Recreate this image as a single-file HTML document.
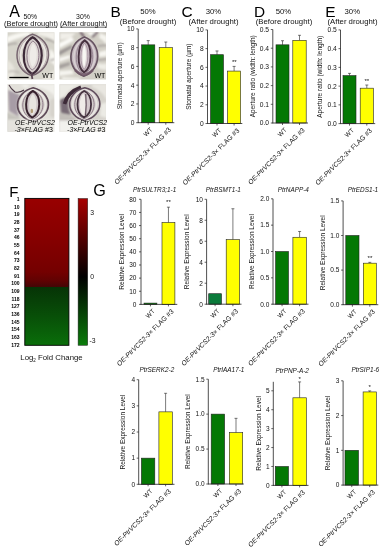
<!DOCTYPE html>
<html><head><meta charset="utf-8"><title>Figure</title>
<style>html,body{margin:0;padding:0;background:#fff}svg{display:block}</style></head><body>
<svg width="388" height="550" viewBox="0 0 388 550" font-family='"Liberation Sans", sans-serif'>
<rect width="388" height="550" fill="#fff"/>
<defs>
<linearGradient id="hm" x1="0" y1="0" x2="0" y2="1">
<stop offset="0" stop-color="#980000"/>
<stop offset="0.3" stop-color="#840000"/>
<stop offset="0.5" stop-color="#740000"/>
<stop offset="0.56" stop-color="#600202"/>
<stop offset="0.60" stop-color="#450606"/>
<stop offset="0.601" stop-color="#063306"/>
<stop offset="0.8" stop-color="#084f08"/>
<stop offset="1" stop-color="#0a6e0a"/>
</linearGradient>
<linearGradient id="cb" x1="0" y1="0" x2="0" y2="1">
<stop offset="0" stop-color="#a80000"/>
<stop offset="0.533" stop-color="#000000"/>
<stop offset="1" stop-color="#0a7c0a"/>
</linearGradient>
<filter id="bl" x="-10%" y="-10%" width="120%" height="120%"><feGaussianBlur stdDeviation="0.55"/></filter>
<filter id="bl3" x="-10%" y="-10%" width="120%" height="120%"><feGaussianBlur stdDeviation="0.8"/></filter>
<filter id="bl2" x="-10%" y="-10%" width="120%" height="120%"><feGaussianBlur stdDeviation="1.1"/></filter>
<clipPath id="c1"><rect x="7.6" y="32.2" width="46.8" height="47.2"/></clipPath>
<clipPath id="c2"><rect x="59.4" y="32.2" width="46.6" height="47.2"/></clipPath>
<clipPath id="c3"><rect x="7.5" y="84.1" width="46.8" height="47.7"/></clipPath>
<clipPath id="c4"><rect x="59.4" y="84.3" width="46.6" height="47.5"/></clipPath>
</defs>
<text x="9.30" y="16.70" font-size="16" text-anchor="start" fill="#000">A</text>
<text x="110.60" y="16.90" font-size="15.4" text-anchor="start" fill="#000">B</text>
<text x="181.50" y="17.20" font-size="15.4" text-anchor="start" fill="#000">C</text>
<text x="254.10" y="17.00" font-size="15.4" text-anchor="start" fill="#000">D</text>
<text x="325.20" y="17.20" font-size="15.4" text-anchor="start" fill="#000">E</text>
<text x="9.20" y="196.80" font-size="15" text-anchor="start" fill="#000">F</text>
<text x="93.20" y="196.30" font-size="16.2" text-anchor="start" fill="#000">G</text>
<text x="30.30" y="19.10" font-size="6.8" text-anchor="middle" fill="#111">50%</text>
<text x="31.00" y="26.20" font-size="7.4" text-anchor="middle" fill="#111">(Before drought)</text>
<line x1="5.20" y1="27.20" x2="56.80" y2="27.20" stroke="#222" stroke-width="0.7"/>
<text x="83.00" y="19.10" font-size="6.9" text-anchor="middle" fill="#111">30%</text>
<text x="83.60" y="26.20" font-size="7.35" text-anchor="middle" fill="#111">(After drought)</text>
<line x1="60.00" y1="27.20" x2="107.00" y2="27.20" stroke="#222" stroke-width="0.7"/>
<g clip-path="url(#c1)">
<rect x="7" y="31" width="49" height="50" fill="#d6d4cb"/>
<g filter="url(#bl3)">
<path d="M7 37 Q18 32 30 32 L30 35.5 Q18 37 7 43Z" fill="#f8f7f2" stroke="none" stroke-width="1" opacity="1"/>
<path d="M38 32 L55 32 L55 41 Q46 36 38 35Z" fill="#f2f0ea" stroke="none" stroke-width="1" opacity="1"/>
<path d="M50 49 Q54 51 56 58 L56 67 Q53 63 49 61Z" fill="#f6f5f0" stroke="none" stroke-width="1" opacity="1"/>
<path d="M7 60 Q12 62 15 70 L13 80 L7 80Z" fill="#e8e6de" stroke="none" stroke-width="1" opacity="1"/>
<path d="M44 76 Q49 74 55 70 L55 80 L44 80Z" fill="#e8e6de" stroke="none" stroke-width="1" opacity="1"/>
<path d="M7 45 Q12 43 17 43.5" fill="none" stroke="#9d9795" stroke-width="1.4" opacity="1"/>
<path d="M45 38.5 Q50 39.5 55 42.5" fill="none" stroke="#a09a97" stroke-width="1.4" opacity="1"/>
<path d="M50 60.5 L55 59" fill="none" stroke="#a49e9b" stroke-width="1.4" opacity="1"/>
<path d="M8 72 Q14 70 20 73" fill="none" stroke="#b5afab" stroke-width="1.2" opacity="1"/>
</g><g filter="url(#bl)">
<path d="M32.5 34.2 C12.3 40.8 11.6 69.0 31.8 75.6 C53.6 69.0 54.3 40.8 32.5 34.2Z" fill="#d3cec8" stroke="#77656f" stroke-width="1.5" opacity="1"/>
<path d="M32.5 36.2 C15.2 42.3 14.7 68.1 32.0 74.2 C51.2 68.1 51.7 42.3 32.5 36.2Z" fill="none" stroke="#a8999f" stroke-width="0.7" opacity="1"/>
<path d="M32.5 37.0 C16.8 42.8 16.3 67.2 32.0 73.0 C49.6 67.2 50.1 42.8 32.5 37.0Z" fill="none" stroke="#ebe8e3" stroke-width="1.8" opacity="1"/>
<path d="M32.6 37.2 C21.2 43.1 20.7 68.1 32.1 74.0 C44.6 68.1 45.1 43.1 32.6 37.2Z" fill="#d4cdcb" stroke="#3e2a39" stroke-width="2.2" opacity="1"/>
<path d="M32.8 41.0 C25.4 45.6 24.8 65.4 32.2 70.0 C40.7 65.4 41.3 45.6 32.8 41.0Z" fill="#e2dcd9" stroke="#8f7b89" stroke-width="1" opacity="1"/>
<path d="M33.2 43.5 C29.2 47.6 28.5 62.9 32.5 67.0 C37.6 62.9 38.3 47.6 33.2 43.5Z" fill="#efece8" stroke="none" stroke-width="1" opacity="1"/>
<path d="M31.6 72.5 Q31.8 76 32.4 79" fill="none" stroke="#5a4553" stroke-width="1.8" opacity="1"/>
</g></g>
<g clip-path="url(#c2)">
<rect x="59" y="31" width="49" height="50" fill="#d2cfc6"/>
<g filter="url(#bl3)">
<path d="M59 43 L72 37 L74 40.5 L59 48.5Z" fill="#fbfaf7" stroke="none" stroke-width="1" opacity="1"/>
<path d="M59 51.5 L72 45 L72 48 L59 55.5Z" fill="#989292" stroke="none" stroke-width="1" opacity="1"/>
<path d="M59 58 L70 55 L70 58 L59 62Z" fill="#f9f8f4" stroke="none" stroke-width="1" opacity="1"/>
<path d="M59 65 L70 62 L70 65 L59 69Z" fill="#a29d9a" stroke="none" stroke-width="1" opacity="1"/>
<path d="M59 71 L72 70 L74 74 L59 76Z" fill="#f6f5f0" stroke="none" stroke-width="1" opacity="1"/>
<path d="M60 33 L76 33 L70 38 L60 40Z" fill="#f1efe9" stroke="none" stroke-width="1" opacity="1"/>
<path d="M80 31 L84 37 M98 31 L92 37" fill="none" stroke="#6a5764" stroke-width="2.2" opacity="1"/>
<path d="M86 32 L96 32 L91 36Z" fill="#f8f7f3" stroke="none" stroke-width="1" opacity="1"/>
<path d="M99 38 Q104 40 107 46 L107 36 L100 33Z" fill="#f5f4ee" stroke="none" stroke-width="1" opacity="1"/>
<path d="M99 52 L107 50 L107 56 L99 57Z" fill="#f7f6f1" stroke="none" stroke-width="1" opacity="1"/>
<path d="M98 46 L107 45 M98 60 L107 59" fill="none" stroke="#a19b99" stroke-width="1.5" opacity="1"/>
<path d="M98 63 Q103 65 107 63 L107 70 Q102 70 97 68Z" fill="#eeede6" stroke="none" stroke-width="1" opacity="1"/>
<path d="M62 77 L80 78 L80 80 L62 80Z" fill="#f3f2ec" stroke="none" stroke-width="1" opacity="1"/>
</g><g filter="url(#bl)">
<path d="M84.4 37.0 C66.8 43.3 66.2 69.9 83.8 76.2 C101.9 69.9 102.5 43.3 84.4 37.0Z" fill="#c4b8bf" stroke="#665361" stroke-width="1.7" opacity="1"/>
<path d="M84.4 39.5 C70.6 45.0 70.1 68.5 83.9 74.0 C98.3 68.5 98.8 45.0 84.4 39.5Z" fill="none" stroke="#d8d0d2" stroke-width="1.6" opacity="1"/>
<path d="M84.5 39.5 C73.9 45.1 73.4 68.9 84.0 74.5 C95.2 68.9 95.7 45.1 84.5 39.5Z" fill="none" stroke="#948190" stroke-width="0.9" opacity="1"/>
<path d="M84.7 40.4 C77.0 45.5 76.4 67.3 84.1 72.4 C92.3 67.3 92.9 45.5 84.7 40.4Z" fill="#c6b8c0" stroke="#46303f" stroke-width="1.9" opacity="1"/>
<path d="M84.5 43.0 C80.1 47.2 79.7 65.3 84.1 69.5 C88.8 65.3 89.2 47.2 84.5 43.0Z" fill="#dcd2d5" stroke="#9a8593" stroke-width="0.7" opacity="1"/>
<path d="M84.3 45.0 C82.2 49.4 81.9 62.8 84.0 67.2 C86.4 62.8 86.7 49.4 84.3 45.0Z" fill="#f8f7f3" stroke="none" stroke-width="1" opacity="1"/>
<path d="M75 70 Q84 79 93 70" fill="none" stroke="#705868" stroke-width="2.6" opacity="0.8"/>
</g></g>
<g clip-path="url(#c3)">
<rect x="7" y="83" width="49" height="50" fill="#e2e0da"/>
<g filter="url(#bl2)">
<path d="M8 90 L20 95 Q15 104 19 117 L9 111Z" fill="#a79ca6" stroke="none" stroke-width="1" opacity="1"/>
<path d="M7 112 L20 118 L24 133 L7 133Z" fill="#c6c4bd" stroke="none" stroke-width="1" opacity="1"/>
<path d="M36 84 L55 84 L55 96 Q47 88 36 87Z" fill="#f1f0eb" stroke="none" stroke-width="1" opacity="1"/>
<path d="M50 100 L55 98 L55 118 L50 116Z" fill="#d6d3cc" stroke="none" stroke-width="1" opacity="1"/>
<path d="M20 85 L30 85 L26 88Z" fill="#f4f3ee" stroke="none" stroke-width="1" opacity="1"/>
</g><g filter="url(#bl)">
<path d="M9 85 Q11 89 15 92 Q20 93 24 90" fill="none" stroke="#4a3945" stroke-width="1.1" opacity="1"/>
<path d="M33.2 87.8 C12.7 93.2 12.1 116.1 32.6 121.5 C53.3 116.1 53.9 93.2 33.2 87.8Z" fill="#d4cfcb" stroke="#5d4957" stroke-width="1.7" opacity="1"/>
<path d="M33.2 90.0 C16.4 94.7 15.8 114.9 32.6 119.6 C49.6 114.9 50.2 94.7 33.2 90.0Z" fill="none" stroke="#ebe8e4" stroke-width="1.9" opacity="1"/>
<path d="M33.0 90.6 C19.7 95.2 19.2 114.6 32.5 119.2 C46.1 114.6 46.6 95.2 33.0 90.6Z" fill="none" stroke="#8f7b89" stroke-width="1" opacity="1"/>
<path d="M32.8 91.0 C24.3 95.3 23.7 113.3 32.2 117.6 C41.2 113.3 41.8 95.3 32.8 91.0Z" fill="#cfc6c8" stroke="#38242f" stroke-width="2" opacity="1"/>
<path d="M32.8 94.0 C28.3 97.8 27.8 111.6 32.3 115.4 C37.4 111.6 37.9 97.8 32.8 94.0Z" fill="#e8e5e0" stroke="none" stroke-width="1" opacity="1"/>
<ellipse cx="31.8" cy="111" rx="1.3" ry="2.2" fill="#b29d78"/>
</g>
<rect x="7" y="119.5" width="49" height="15" fill="#f1f0ec" opacity="0.7" filter="url(#bl2)"/>
</g>
<g clip-path="url(#c4)">
<rect x="59" y="83" width="49" height="50" fill="#d6d3cc"/>
<g filter="url(#bl2)">
<path d="M59 84 L84 84 Q70 87 64 97 L59 99Z" fill="#ecebe5" stroke="none" stroke-width="1" opacity="1"/>
<path d="M60 100 Q65 95 69 100 Q67 108 71 115 L61 113Z" fill="#776a75" stroke="none" stroke-width="1" opacity="1"/>
<path d="M59 113 L74 117 L76 122 L59 122Z" fill="#c2beb9" stroke="none" stroke-width="1" opacity="1"/>
<path d="M92 84 L107 84 L107 100 Q101 90 92 87Z" fill="#e9e7e1" stroke="none" stroke-width="1" opacity="1"/>
<path d="M101 104 L107 102 L107 118 L100 116Z" fill="#ecebe5" stroke="none" stroke-width="1" opacity="1"/>
</g><g filter="url(#bl)">
<path d="M64.5 104 Q67.5 92 81 87.2" fill="none" stroke="#3d2c39" stroke-width="3.6" opacity="1"/>
<path d="M84.8 87.8 C64.8 92.5 64.6 115.7 84.6 120.4 C104.8 115.7 105.0 92.5 84.8 87.8Z" fill="#d5cecd" stroke="#5f4c5b" stroke-width="1.6" opacity="1"/>
<path d="M84.7 89.8 C68.5 94.4 68.3 114.2 84.5 118.8 C100.7 114.2 100.9 94.4 84.7 89.8Z" fill="none" stroke="#e8e5e1" stroke-width="1.8" opacity="1"/>
<path d="M84.5 90.4 C71.7 94.9 71.4 114.1 84.2 118.6 C97.2 114.1 97.5 94.9 84.5 90.4Z" fill="none" stroke="#8d7a87" stroke-width="1" opacity="1"/>
<path d="M84.2 91.0 C75.4 95.2 75.2 113.2 84.0 117.4 C93.3 113.2 93.5 95.2 84.2 91.0Z" fill="#d2c7cb" stroke="#43303e" stroke-width="1.8" opacity="1"/>
<path d="M83.4 93.6 C78.6 97.5 78.6 111.7 83.4 115.6 C86.3 111.7 86.3 97.5 83.4 93.6Z" fill="#efebe8" stroke="none" stroke-width="1" opacity="1"/>
<path d="M85.8 94 Q86.6 105 85.6 115.6" fill="none" stroke="#4f3b49" stroke-width="1" opacity="1"/>
</g>
<rect x="59" y="120.5" width="49" height="14" fill="#f7f6f3" opacity="0.85" filter="url(#bl2)"/>
</g>
<line x1="9.30" y1="77.50" x2="28.60" y2="77.50" stroke="#000" stroke-width="1.3"/>
<text x="42.30" y="78.40" font-size="7" text-anchor="start" fill="#000">WT</text>
<text x="94.50" y="78.40" font-size="7" text-anchor="start" fill="#000">WT</text>
<text x="54.80" y="124.90" font-size="7.0" text-anchor="end" fill="#000" font-style="italic">OE-PtrVCS2</text>
<text x="52.80" y="132.00" font-size="7.0" text-anchor="end" fill="#000"><tspan font-style="italic">-3×FLAG</tspan> #3</text>
<text x="107.20" y="124.90" font-size="7.0" text-anchor="end" fill="#000" font-style="italic">OE-PtrVCS2</text>
<text x="105.40" y="132.00" font-size="7.0" text-anchor="end" fill="#000"><tspan font-style="italic">-3×FLAG</tspan> #3</text>
<text x="148.00" y="14.30" font-size="7.75" text-anchor="middle" fill="#111">50%</text>
<text x="148.00" y="23.80" font-size="7.75" text-anchor="middle" fill="#111">(Before drought)</text>
<text x="213.50" y="14.30" font-size="7.75" text-anchor="middle" fill="#111">30%</text>
<text x="213.50" y="23.80" font-size="7.75" text-anchor="middle" fill="#111">(After drought)</text>
<text x="283.50" y="14.30" font-size="7.75" text-anchor="middle" fill="#111">50%</text>
<text x="284.00" y="23.80" font-size="7.75" text-anchor="middle" fill="#111">(Before drought)</text>
<text x="352.30" y="14.30" font-size="7.75" text-anchor="middle" fill="#111">30%</text>
<text x="352.50" y="23.80" font-size="7.75" text-anchor="middle" fill="#111">(After drought)</text>
<line x1="148.20" y1="44.85" x2="148.20" y2="40.62" stroke="#222" stroke-width="0.6"/>
<line x1="146.70" y1="40.62" x2="149.70" y2="40.62" stroke="#222" stroke-width="0.6"/>
<rect x="141.60" y="44.85" width="13.20" height="77.85" fill="#047804" stroke="#222" stroke-width="0.6"/>
<line x1="165.80" y1="47.66" x2="165.80" y2="42.03" stroke="#222" stroke-width="0.6"/>
<line x1="164.30" y1="42.03" x2="167.30" y2="42.03" stroke="#222" stroke-width="0.6"/>
<rect x="159.20" y="47.66" width="13.20" height="75.04" fill="#ffff00" stroke="#222" stroke-width="0.6"/>
<line x1="138.20" y1="28.90" x2="138.20" y2="123.00" stroke="#222" stroke-width="0.8"/>
<line x1="137.90" y1="122.70" x2="174.30" y2="122.70" stroke="#222" stroke-width="0.8"/>
<line x1="136.20" y1="122.70" x2="138.20" y2="122.70" stroke="#222" stroke-width="0.7"/>
<text x="134.50" y="125.11" font-size="6.7" text-anchor="end" fill="#111">0</text>
<line x1="136.20" y1="103.94" x2="138.20" y2="103.94" stroke="#222" stroke-width="0.7"/>
<text x="134.50" y="106.35" font-size="6.7" text-anchor="end" fill="#111">2</text>
<line x1="136.20" y1="85.18" x2="138.20" y2="85.18" stroke="#222" stroke-width="0.7"/>
<text x="134.50" y="87.59" font-size="6.7" text-anchor="end" fill="#111">4</text>
<line x1="136.20" y1="66.42" x2="138.20" y2="66.42" stroke="#222" stroke-width="0.7"/>
<text x="134.50" y="68.83" font-size="6.7" text-anchor="end" fill="#111">6</text>
<line x1="136.20" y1="47.66" x2="138.20" y2="47.66" stroke="#222" stroke-width="0.7"/>
<text x="134.50" y="50.07" font-size="6.7" text-anchor="end" fill="#111">8</text>
<line x1="136.20" y1="28.90" x2="138.20" y2="28.90" stroke="#222" stroke-width="0.7"/>
<text x="134.50" y="31.31" font-size="6.7" text-anchor="end" fill="#111">10</text>
<line x1="148.20" y1="122.70" x2="148.20" y2="124.70" stroke="#222" stroke-width="0.7"/>
<line x1="165.80" y1="122.70" x2="165.80" y2="124.70" stroke="#222" stroke-width="0.7"/>
<text x="122.40" y="75.80" font-size="6.5" text-anchor="middle" fill="#111" transform="rotate(-90 122.40 75.80)">Stomatal aperture (µm)</text>
<text x="153.10" y="129.90" font-size="6.4" text-anchor="end" fill="#111" transform="rotate(-45 153.10 129.90)">WT</text>
<text x="171.50" y="130.20" font-size="6.75" text-anchor="end" fill="#111" transform="rotate(-45 171.50 130.20)"><tspan font-style="italic">OE-PtrVCS2-3×</tspan> FLAG #3</text>
<line x1="217.00" y1="54.70" x2="217.00" y2="50.96" stroke="#222" stroke-width="0.6"/>
<line x1="215.50" y1="50.96" x2="218.50" y2="50.96" stroke="#222" stroke-width="0.6"/>
<rect x="210.50" y="54.70" width="13.00" height="68.80" fill="#047804" stroke="#222" stroke-width="0.6"/>
<line x1="234.10" y1="71.08" x2="234.10" y2="66.40" stroke="#222" stroke-width="0.6"/>
<line x1="232.60" y1="66.40" x2="235.60" y2="66.40" stroke="#222" stroke-width="0.6"/>
<rect x="227.60" y="71.08" width="13.00" height="52.42" fill="#ffff00" stroke="#222" stroke-width="0.6"/>
<line x1="207.50" y1="29.90" x2="207.50" y2="123.80" stroke="#222" stroke-width="0.8"/>
<line x1="207.20" y1="123.50" x2="242.30" y2="123.50" stroke="#222" stroke-width="0.8"/>
<line x1="205.50" y1="123.50" x2="207.50" y2="123.50" stroke="#222" stroke-width="0.7"/>
<text x="203.80" y="125.91" font-size="6.7" text-anchor="end" fill="#111">0</text>
<line x1="205.50" y1="104.78" x2="207.50" y2="104.78" stroke="#222" stroke-width="0.7"/>
<text x="203.80" y="107.19" font-size="6.7" text-anchor="end" fill="#111">2</text>
<line x1="205.50" y1="86.06" x2="207.50" y2="86.06" stroke="#222" stroke-width="0.7"/>
<text x="203.80" y="88.47" font-size="6.7" text-anchor="end" fill="#111">4</text>
<line x1="205.50" y1="67.34" x2="207.50" y2="67.34" stroke="#222" stroke-width="0.7"/>
<text x="203.80" y="69.75" font-size="6.7" text-anchor="end" fill="#111">6</text>
<line x1="205.50" y1="48.62" x2="207.50" y2="48.62" stroke="#222" stroke-width="0.7"/>
<text x="203.80" y="51.03" font-size="6.7" text-anchor="end" fill="#111">8</text>
<line x1="205.50" y1="29.90" x2="207.50" y2="29.90" stroke="#222" stroke-width="0.7"/>
<text x="203.80" y="32.31" font-size="6.7" text-anchor="end" fill="#111">10</text>
<line x1="217.00" y1="123.50" x2="217.00" y2="125.50" stroke="#222" stroke-width="0.7"/>
<line x1="234.10" y1="123.50" x2="234.10" y2="125.50" stroke="#222" stroke-width="0.7"/>
<text x="191.20" y="76.70" font-size="6.45" text-anchor="middle" fill="#111" transform="rotate(-90 191.20 76.70)">Stomatal aperture (µm)</text>
<text x="221.90" y="130.70" font-size="6.4" text-anchor="end" fill="#111" transform="rotate(-45 221.90 130.70)">WT</text>
<text x="239.80" y="131.00" font-size="6.75" text-anchor="end" fill="#111" transform="rotate(-45 239.80 131.00)"><tspan font-style="italic">OE-PtrVCS2-3×</tspan> FLAG #3</text>
<text x="234.30" y="64.00" font-size="6.2" text-anchor="middle" fill="#111">**</text>
<line x1="282.50" y1="44.83" x2="282.50" y2="40.72" stroke="#222" stroke-width="0.6"/>
<line x1="281.00" y1="40.72" x2="284.00" y2="40.72" stroke="#222" stroke-width="0.6"/>
<rect x="276.00" y="44.83" width="13.00" height="78.17" fill="#047804" stroke="#222" stroke-width="0.6"/>
<line x1="299.50" y1="40.35" x2="299.50" y2="35.30" stroke="#222" stroke-width="0.6"/>
<line x1="298.00" y1="35.30" x2="301.00" y2="35.30" stroke="#222" stroke-width="0.6"/>
<rect x="292.80" y="40.35" width="13.40" height="82.65" fill="#ffff00" stroke="#222" stroke-width="0.6"/>
<line x1="272.80" y1="29.50" x2="272.80" y2="123.30" stroke="#222" stroke-width="0.8"/>
<line x1="272.50" y1="123.00" x2="308.00" y2="123.00" stroke="#222" stroke-width="0.8"/>
<line x1="270.80" y1="123.00" x2="272.80" y2="123.00" stroke="#222" stroke-width="0.7"/>
<text x="269.10" y="125.41" font-size="6.7" text-anchor="end" fill="#111">0.0</text>
<line x1="270.80" y1="104.30" x2="272.80" y2="104.30" stroke="#222" stroke-width="0.7"/>
<text x="269.10" y="106.71" font-size="6.7" text-anchor="end" fill="#111">0.1</text>
<line x1="270.80" y1="85.60" x2="272.80" y2="85.60" stroke="#222" stroke-width="0.7"/>
<text x="269.10" y="88.01" font-size="6.7" text-anchor="end" fill="#111">0.2</text>
<line x1="270.80" y1="66.90" x2="272.80" y2="66.90" stroke="#222" stroke-width="0.7"/>
<text x="269.10" y="69.31" font-size="6.7" text-anchor="end" fill="#111">0.3</text>
<line x1="270.80" y1="48.20" x2="272.80" y2="48.20" stroke="#222" stroke-width="0.7"/>
<text x="269.10" y="50.61" font-size="6.7" text-anchor="end" fill="#111">0.4</text>
<line x1="270.80" y1="29.50" x2="272.80" y2="29.50" stroke="#222" stroke-width="0.7"/>
<text x="269.10" y="31.91" font-size="6.7" text-anchor="end" fill="#111">0.5</text>
<line x1="282.50" y1="123.00" x2="282.50" y2="125.00" stroke="#222" stroke-width="0.7"/>
<line x1="299.50" y1="123.00" x2="299.50" y2="125.00" stroke="#222" stroke-width="0.7"/>
<text x="255.00" y="76.25" font-size="6.5" text-anchor="middle" fill="#111" transform="rotate(-90 255.00 76.25)">Aperture ratio (width: length)</text>
<text x="287.40" y="130.20" font-size="6.4" text-anchor="end" fill="#111" transform="rotate(-45 287.40 130.20)">WT</text>
<text x="305.20" y="130.50" font-size="6.75" text-anchor="end" fill="#111" transform="rotate(-45 305.20 130.50)"><tspan font-style="italic">OE-PtrVCS2-3×</tspan> FLAG #3</text>
<line x1="349.50" y1="75.63" x2="349.50" y2="73.38" stroke="#222" stroke-width="0.6"/>
<line x1="348.00" y1="73.38" x2="351.00" y2="73.38" stroke="#222" stroke-width="0.6"/>
<rect x="343.00" y="75.63" width="13.00" height="47.97" fill="#047804" stroke="#222" stroke-width="0.6"/>
<line x1="366.80" y1="88.18" x2="366.80" y2="85.00" stroke="#222" stroke-width="0.6"/>
<line x1="365.30" y1="85.00" x2="368.30" y2="85.00" stroke="#222" stroke-width="0.6"/>
<rect x="360.20" y="88.18" width="13.20" height="35.42" fill="#ffff00" stroke="#222" stroke-width="0.6"/>
<line x1="340.50" y1="29.90" x2="340.50" y2="123.90" stroke="#222" stroke-width="0.8"/>
<line x1="340.20" y1="123.60" x2="375.20" y2="123.60" stroke="#222" stroke-width="0.8"/>
<line x1="338.50" y1="123.60" x2="340.50" y2="123.60" stroke="#222" stroke-width="0.7"/>
<text x="336.80" y="126.01" font-size="6.7" text-anchor="end" fill="#111">0.0</text>
<line x1="338.50" y1="104.86" x2="340.50" y2="104.86" stroke="#222" stroke-width="0.7"/>
<text x="336.80" y="107.27" font-size="6.7" text-anchor="end" fill="#111">0.1</text>
<line x1="338.50" y1="86.12" x2="340.50" y2="86.12" stroke="#222" stroke-width="0.7"/>
<text x="336.80" y="88.53" font-size="6.7" text-anchor="end" fill="#111">0.2</text>
<line x1="338.50" y1="67.38" x2="340.50" y2="67.38" stroke="#222" stroke-width="0.7"/>
<text x="336.80" y="69.79" font-size="6.7" text-anchor="end" fill="#111">0.3</text>
<line x1="338.50" y1="48.64" x2="340.50" y2="48.64" stroke="#222" stroke-width="0.7"/>
<text x="336.80" y="51.05" font-size="6.7" text-anchor="end" fill="#111">0.4</text>
<line x1="338.50" y1="29.90" x2="340.50" y2="29.90" stroke="#222" stroke-width="0.7"/>
<text x="336.80" y="32.31" font-size="6.7" text-anchor="end" fill="#111">0.5</text>
<line x1="349.50" y1="123.60" x2="349.50" y2="125.60" stroke="#222" stroke-width="0.7"/>
<line x1="366.80" y1="123.60" x2="366.80" y2="125.60" stroke="#222" stroke-width="0.7"/>
<text x="322.00" y="76.75" font-size="6.5" text-anchor="middle" fill="#111" transform="rotate(-90 322.00 76.75)">Aperture ratio (width: length)</text>
<text x="354.40" y="130.80" font-size="6.4" text-anchor="end" fill="#111" transform="rotate(-45 354.40 130.80)">WT</text>
<text x="372.50" y="131.10" font-size="6.75" text-anchor="end" fill="#111" transform="rotate(-45 372.50 131.10)"><tspan font-style="italic">OE-PtrVCS2-3×</tspan> FLAG #3</text>
<text x="366.80" y="83.00" font-size="6.2" text-anchor="middle" fill="#111">**</text>
<rect x="24.80" y="198.40" width="44.10" height="146.90" fill="url(#hm)" stroke="#000" stroke-width="0.9"/>
<rect x="78.10" y="198.50" width="9.60" height="146.80" fill="url(#cb)" stroke="#222" stroke-width="0.5"/>
<text x="19.60" y="200.90" font-size="5" text-anchor="end" fill="#000" font-weight="bold">1</text>
<text x="19.60" y="208.58" font-size="5" text-anchor="end" fill="#000" font-weight="bold">10</text>
<text x="19.60" y="216.26" font-size="5" text-anchor="end" fill="#000" font-weight="bold">19</text>
<text x="19.60" y="223.94" font-size="5" text-anchor="end" fill="#000" font-weight="bold">28</text>
<text x="19.60" y="231.62" font-size="5" text-anchor="end" fill="#000" font-weight="bold">37</text>
<text x="19.60" y="239.30" font-size="5" text-anchor="end" fill="#000" font-weight="bold">46</text>
<text x="19.60" y="246.98" font-size="5" text-anchor="end" fill="#000" font-weight="bold">55</text>
<text x="19.60" y="254.66" font-size="5" text-anchor="end" fill="#000" font-weight="bold">64</text>
<text x="19.60" y="262.34" font-size="5" text-anchor="end" fill="#000" font-weight="bold">73</text>
<text x="19.60" y="270.02" font-size="5" text-anchor="end" fill="#000" font-weight="bold">82</text>
<text x="19.60" y="277.70" font-size="5" text-anchor="end" fill="#000" font-weight="bold">91</text>
<text x="19.60" y="285.38" font-size="5" text-anchor="end" fill="#000" font-weight="bold">100</text>
<text x="19.60" y="293.06" font-size="5" text-anchor="end" fill="#000" font-weight="bold">109</text>
<text x="19.60" y="300.74" font-size="5" text-anchor="end" fill="#000" font-weight="bold">118</text>
<text x="19.60" y="308.42" font-size="5" text-anchor="end" fill="#000" font-weight="bold">127</text>
<text x="19.60" y="316.10" font-size="5" text-anchor="end" fill="#000" font-weight="bold">136</text>
<text x="19.60" y="323.78" font-size="5" text-anchor="end" fill="#000" font-weight="bold">145</text>
<text x="19.60" y="331.46" font-size="5" text-anchor="end" fill="#000" font-weight="bold">154</text>
<text x="19.60" y="339.14" font-size="5" text-anchor="end" fill="#000" font-weight="bold">163</text>
<text x="19.60" y="346.82" font-size="5" text-anchor="end" fill="#000" font-weight="bold">172</text>
<text x="90.20" y="214.60" font-size="6.8" text-anchor="start" fill="#111">3</text>
<text x="90.20" y="278.70" font-size="6.8" text-anchor="start" fill="#111">0</text>
<text x="89.60" y="343.00" font-size="6.8" text-anchor="start" fill="#111">-3</text>
<text x="51.50" y="360.00" font-size="7.8" text-anchor="middle" fill="#111">Log<tspan font-size="4.5" dy="1.5">2</tspan><tspan dy="-1.5"> Fold Change</tspan></text>
<rect x="144.00" y="303.09" width="12.90" height="1.31" fill="#047804" stroke="#222" stroke-width="0.6"/>
<line x1="168.45" y1="222.55" x2="168.45" y2="207.18" stroke="#222" stroke-width="0.6"/>
<line x1="166.95" y1="207.18" x2="169.95" y2="207.18" stroke="#222" stroke-width="0.6"/>
<rect x="162.00" y="222.55" width="12.90" height="81.85" fill="#ffff00" stroke="#222" stroke-width="0.6"/>
<line x1="141.00" y1="199.30" x2="141.00" y2="304.70" stroke="#222" stroke-width="0.8"/>
<line x1="140.70" y1="304.40" x2="177.30" y2="304.40" stroke="#222" stroke-width="0.8"/>
<line x1="139.00" y1="304.40" x2="141.00" y2="304.40" stroke="#222" stroke-width="0.7"/>
<text x="136.40" y="306.74" font-size="6.5" text-anchor="end" fill="#111">0</text>
<line x1="139.00" y1="291.26" x2="141.00" y2="291.26" stroke="#222" stroke-width="0.7"/>
<text x="136.40" y="293.60" font-size="6.5" text-anchor="end" fill="#111">10</text>
<line x1="139.00" y1="278.12" x2="141.00" y2="278.12" stroke="#222" stroke-width="0.7"/>
<text x="136.40" y="280.46" font-size="6.5" text-anchor="end" fill="#111">20</text>
<line x1="139.00" y1="264.99" x2="141.00" y2="264.99" stroke="#222" stroke-width="0.7"/>
<text x="136.40" y="267.33" font-size="6.5" text-anchor="end" fill="#111">30</text>
<line x1="139.00" y1="251.85" x2="141.00" y2="251.85" stroke="#222" stroke-width="0.7"/>
<text x="136.40" y="254.19" font-size="6.5" text-anchor="end" fill="#111">40</text>
<line x1="139.00" y1="238.71" x2="141.00" y2="238.71" stroke="#222" stroke-width="0.7"/>
<text x="136.40" y="241.05" font-size="6.5" text-anchor="end" fill="#111">50</text>
<line x1="139.00" y1="225.57" x2="141.00" y2="225.57" stroke="#222" stroke-width="0.7"/>
<text x="136.40" y="227.91" font-size="6.5" text-anchor="end" fill="#111">60</text>
<line x1="139.00" y1="212.44" x2="141.00" y2="212.44" stroke="#222" stroke-width="0.7"/>
<text x="136.40" y="214.78" font-size="6.5" text-anchor="end" fill="#111">70</text>
<line x1="139.00" y1="199.30" x2="141.00" y2="199.30" stroke="#222" stroke-width="0.7"/>
<text x="136.40" y="201.64" font-size="6.5" text-anchor="end" fill="#111">80</text>
<line x1="150.45" y1="304.40" x2="150.45" y2="306.40" stroke="#222" stroke-width="0.7"/>
<line x1="168.45" y1="304.40" x2="168.45" y2="306.40" stroke="#222" stroke-width="0.7"/>
<text x="123.80" y="251.85" font-size="6.6" text-anchor="middle" fill="#111" transform="rotate(-90 123.80 251.85)">Relative Expression Level</text>
<text x="155.35" y="311.60" font-size="6.4" text-anchor="end" fill="#111" transform="rotate(-45 155.35 311.60)">WT</text>
<text x="174.15" y="311.90" font-size="6.75" text-anchor="end" fill="#111" transform="rotate(-45 174.15 311.90)"><tspan font-style="italic">OE-PtrVCS2-3×</tspan> FLAG #3</text>
<text x="154.70" y="192.00" font-size="6.4" text-anchor="middle" fill="#111" font-style="italic">PtrSULTR3;1-1</text>
<text x="168.50" y="203.50" font-size="6.2" text-anchor="middle" fill="#111">**</text>
<rect x="208.70" y="293.71" width="12.80" height="10.49" fill="#0b7b3b" stroke="#222" stroke-width="0.6"/>
<line x1="232.90" y1="239.69" x2="232.90" y2="208.74" stroke="#222" stroke-width="0.6"/>
<line x1="231.40" y1="208.74" x2="234.40" y2="208.74" stroke="#222" stroke-width="0.6"/>
<rect x="226.20" y="239.69" width="13.40" height="64.51" fill="#ffff00" stroke="#222" stroke-width="0.6"/>
<line x1="206.60" y1="199.30" x2="206.60" y2="304.50" stroke="#222" stroke-width="0.8"/>
<line x1="206.30" y1="304.20" x2="241.50" y2="304.20" stroke="#222" stroke-width="0.8"/>
<line x1="204.60" y1="304.20" x2="206.60" y2="304.20" stroke="#222" stroke-width="0.7"/>
<text x="202.90" y="306.54" font-size="6.5" text-anchor="end" fill="#111">0</text>
<line x1="204.60" y1="283.22" x2="206.60" y2="283.22" stroke="#222" stroke-width="0.7"/>
<text x="202.90" y="285.56" font-size="6.5" text-anchor="end" fill="#111">2</text>
<line x1="204.60" y1="262.24" x2="206.60" y2="262.24" stroke="#222" stroke-width="0.7"/>
<text x="202.90" y="264.58" font-size="6.5" text-anchor="end" fill="#111">4</text>
<line x1="204.60" y1="241.26" x2="206.60" y2="241.26" stroke="#222" stroke-width="0.7"/>
<text x="202.90" y="243.60" font-size="6.5" text-anchor="end" fill="#111">6</text>
<line x1="204.60" y1="220.28" x2="206.60" y2="220.28" stroke="#222" stroke-width="0.7"/>
<text x="202.90" y="222.62" font-size="6.5" text-anchor="end" fill="#111">8</text>
<line x1="204.60" y1="199.30" x2="206.60" y2="199.30" stroke="#222" stroke-width="0.7"/>
<text x="202.90" y="201.64" font-size="6.5" text-anchor="end" fill="#111">10</text>
<line x1="215.10" y1="304.20" x2="215.10" y2="306.20" stroke="#222" stroke-width="0.7"/>
<line x1="232.90" y1="304.20" x2="232.90" y2="306.20" stroke="#222" stroke-width="0.7"/>
<text x="189.30" y="251.75" font-size="6.5" text-anchor="middle" fill="#111" transform="rotate(-90 189.30 251.75)">Relative Expression Level</text>
<text x="220.00" y="311.40" font-size="6.4" text-anchor="end" fill="#111" transform="rotate(-45 220.00 311.40)">WT</text>
<text x="238.60" y="311.70" font-size="6.75" text-anchor="end" fill="#111" transform="rotate(-45 238.60 311.70)"><tspan font-style="italic">OE-PtrVCS2-3×</tspan> FLAG #3</text>
<text x="223.30" y="192.00" font-size="6.4" text-anchor="middle" fill="#111" font-style="italic">PtrBSMT1-1</text>
<rect x="275.60" y="251.50" width="12.90" height="52.70" fill="#047804" stroke="#222" stroke-width="0.6"/>
<line x1="299.60" y1="237.27" x2="299.60" y2="231.47" stroke="#222" stroke-width="0.6"/>
<line x1="298.10" y1="231.47" x2="301.10" y2="231.47" stroke="#222" stroke-width="0.6"/>
<rect x="292.90" y="237.27" width="13.40" height="66.93" fill="#ffff00" stroke="#222" stroke-width="0.6"/>
<line x1="273.00" y1="198.80" x2="273.00" y2="304.50" stroke="#222" stroke-width="0.8"/>
<line x1="272.70" y1="304.20" x2="308.50" y2="304.20" stroke="#222" stroke-width="0.8"/>
<line x1="271.00" y1="304.20" x2="273.00" y2="304.20" stroke="#222" stroke-width="0.7"/>
<text x="269.30" y="306.54" font-size="6.5" text-anchor="end" fill="#111">0.0</text>
<line x1="271.00" y1="277.85" x2="273.00" y2="277.85" stroke="#222" stroke-width="0.7"/>
<text x="269.30" y="280.19" font-size="6.5" text-anchor="end" fill="#111">0.5</text>
<line x1="271.00" y1="251.50" x2="273.00" y2="251.50" stroke="#222" stroke-width="0.7"/>
<text x="269.30" y="253.84" font-size="6.5" text-anchor="end" fill="#111">1.0</text>
<line x1="271.00" y1="225.15" x2="273.00" y2="225.15" stroke="#222" stroke-width="0.7"/>
<text x="269.30" y="227.49" font-size="6.5" text-anchor="end" fill="#111">1.5</text>
<line x1="271.00" y1="198.80" x2="273.00" y2="198.80" stroke="#222" stroke-width="0.7"/>
<text x="269.30" y="201.14" font-size="6.5" text-anchor="end" fill="#111">2.0</text>
<line x1="282.05" y1="304.20" x2="282.05" y2="306.20" stroke="#222" stroke-width="0.7"/>
<line x1="299.60" y1="304.20" x2="299.60" y2="306.20" stroke="#222" stroke-width="0.7"/>
<text x="253.80" y="251.50" font-size="6.5" text-anchor="middle" fill="#111" transform="rotate(-90 253.80 251.50)">Relative Expression Level</text>
<text x="286.95" y="311.40" font-size="6.4" text-anchor="end" fill="#111" transform="rotate(-45 286.95 311.40)">WT</text>
<text x="305.30" y="311.70" font-size="6.75" text-anchor="end" fill="#111" transform="rotate(-45 305.30 311.70)"><tspan font-style="italic">OE-PtrVCS2-3×</tspan> FLAG #3</text>
<text x="293.30" y="192.00" font-size="6.4" text-anchor="middle" fill="#111" font-style="italic">PtrNAPP-4</text>
<rect x="345.80" y="235.50" width="13.20" height="69.20" fill="#047804" stroke="#222" stroke-width="0.6"/>
<line x1="369.80" y1="263.18" x2="369.80" y2="262.35" stroke="#222" stroke-width="0.6"/>
<line x1="368.30" y1="262.35" x2="371.30" y2="262.35" stroke="#222" stroke-width="0.6"/>
<rect x="363.30" y="263.18" width="13.00" height="41.52" fill="#ffff00" stroke="#222" stroke-width="0.6"/>
<line x1="343.10" y1="200.90" x2="343.10" y2="305.00" stroke="#222" stroke-width="0.8"/>
<line x1="342.80" y1="304.70" x2="378.30" y2="304.70" stroke="#222" stroke-width="0.8"/>
<line x1="341.10" y1="304.70" x2="343.10" y2="304.70" stroke="#222" stroke-width="0.7"/>
<text x="339.40" y="307.04" font-size="6.5" text-anchor="end" fill="#111">0.0</text>
<line x1="341.10" y1="270.10" x2="343.10" y2="270.10" stroke="#222" stroke-width="0.7"/>
<text x="339.40" y="272.44" font-size="6.5" text-anchor="end" fill="#111">0.5</text>
<line x1="341.10" y1="235.50" x2="343.10" y2="235.50" stroke="#222" stroke-width="0.7"/>
<text x="339.40" y="237.84" font-size="6.5" text-anchor="end" fill="#111">1.0</text>
<line x1="341.10" y1="200.90" x2="343.10" y2="200.90" stroke="#222" stroke-width="0.7"/>
<text x="339.40" y="203.24" font-size="6.5" text-anchor="end" fill="#111">1.5</text>
<line x1="352.40" y1="304.70" x2="352.40" y2="306.70" stroke="#222" stroke-width="0.7"/>
<line x1="369.80" y1="304.70" x2="369.80" y2="306.70" stroke="#222" stroke-width="0.7"/>
<text x="324.80" y="252.80" font-size="6.5" text-anchor="middle" fill="#111" transform="rotate(-90 324.80 252.80)">Relative Expression Level</text>
<text x="357.30" y="311.90" font-size="6.4" text-anchor="end" fill="#111" transform="rotate(-45 357.30 311.90)">WT</text>
<text x="375.50" y="312.20" font-size="6.75" text-anchor="end" fill="#111" transform="rotate(-45 375.50 312.20)"><tspan font-style="italic">OE-PtrVCS2-3×</tspan> FLAG #3</text>
<text x="362.90" y="192.00" font-size="6.4" text-anchor="middle" fill="#111" font-style="italic">PtrEDS1-1</text>
<text x="370.00" y="259.50" font-size="6.2" text-anchor="middle" fill="#111">**</text>
<rect x="141.40" y="458.15" width="13.40" height="26.15" fill="#047804" stroke="#222" stroke-width="0.6"/>
<line x1="165.60" y1="411.86" x2="165.60" y2="393.30" stroke="#222" stroke-width="0.6"/>
<line x1="164.10" y1="393.30" x2="167.10" y2="393.30" stroke="#222" stroke-width="0.6"/>
<rect x="158.90" y="411.86" width="13.40" height="72.44" fill="#ffff00" stroke="#222" stroke-width="0.6"/>
<line x1="138.70" y1="379.70" x2="138.70" y2="484.60" stroke="#222" stroke-width="0.8"/>
<line x1="138.40" y1="484.30" x2="174.50" y2="484.30" stroke="#222" stroke-width="0.8"/>
<line x1="136.70" y1="484.30" x2="138.70" y2="484.30" stroke="#222" stroke-width="0.7"/>
<text x="135.00" y="486.64" font-size="6.5" text-anchor="end" fill="#111">0</text>
<line x1="136.70" y1="458.15" x2="138.70" y2="458.15" stroke="#222" stroke-width="0.7"/>
<text x="135.00" y="460.49" font-size="6.5" text-anchor="end" fill="#111">1</text>
<line x1="136.70" y1="432.00" x2="138.70" y2="432.00" stroke="#222" stroke-width="0.7"/>
<text x="135.00" y="434.34" font-size="6.5" text-anchor="end" fill="#111">2</text>
<line x1="136.70" y1="405.85" x2="138.70" y2="405.85" stroke="#222" stroke-width="0.7"/>
<text x="135.00" y="408.19" font-size="6.5" text-anchor="end" fill="#111">3</text>
<line x1="136.70" y1="379.70" x2="138.70" y2="379.70" stroke="#222" stroke-width="0.7"/>
<text x="135.00" y="382.04" font-size="6.5" text-anchor="end" fill="#111">4</text>
<line x1="148.10" y1="484.30" x2="148.10" y2="486.30" stroke="#222" stroke-width="0.7"/>
<line x1="165.60" y1="484.30" x2="165.60" y2="486.30" stroke="#222" stroke-width="0.7"/>
<text x="125.30" y="432.00" font-size="6.5" text-anchor="middle" fill="#111" transform="rotate(-90 125.30 432.00)">Relative Expression Level</text>
<text x="153.00" y="491.50" font-size="6.4" text-anchor="end" fill="#111" transform="rotate(-45 153.00 491.50)">WT</text>
<text x="171.30" y="491.80" font-size="6.75" text-anchor="end" fill="#111" transform="rotate(-45 171.30 491.80)"><tspan font-style="italic">OE-PtrVCS2-3×</tspan> FLAG #3</text>
<text x="156.80" y="371.90" font-size="6.4" text-anchor="middle" fill="#111" font-style="italic">PtrSERK2-2</text>
<rect x="211.20" y="414.13" width="13.40" height="69.87" fill="#047804" stroke="#222" stroke-width="0.6"/>
<line x1="236.00" y1="432.65" x2="236.00" y2="418.33" stroke="#222" stroke-width="0.6"/>
<line x1="234.50" y1="418.33" x2="237.50" y2="418.33" stroke="#222" stroke-width="0.6"/>
<rect x="229.30" y="432.65" width="13.40" height="51.35" fill="#ffff00" stroke="#222" stroke-width="0.6"/>
<line x1="208.30" y1="379.20" x2="208.30" y2="484.30" stroke="#222" stroke-width="0.8"/>
<line x1="208.00" y1="484.00" x2="243.80" y2="484.00" stroke="#222" stroke-width="0.8"/>
<line x1="206.30" y1="484.00" x2="208.30" y2="484.00" stroke="#222" stroke-width="0.7"/>
<text x="204.60" y="486.34" font-size="6.5" text-anchor="end" fill="#111">0.0</text>
<line x1="206.30" y1="449.07" x2="208.30" y2="449.07" stroke="#222" stroke-width="0.7"/>
<text x="204.60" y="451.41" font-size="6.5" text-anchor="end" fill="#111">0.5</text>
<line x1="206.30" y1="414.13" x2="208.30" y2="414.13" stroke="#222" stroke-width="0.7"/>
<text x="204.60" y="416.47" font-size="6.5" text-anchor="end" fill="#111">1.0</text>
<line x1="206.30" y1="379.20" x2="208.30" y2="379.20" stroke="#222" stroke-width="0.7"/>
<text x="204.60" y="381.54" font-size="6.5" text-anchor="end" fill="#111">1.5</text>
<line x1="217.90" y1="484.00" x2="217.90" y2="486.00" stroke="#222" stroke-width="0.7"/>
<line x1="236.00" y1="484.00" x2="236.00" y2="486.00" stroke="#222" stroke-width="0.7"/>
<text x="190.00" y="431.60" font-size="6.5" text-anchor="middle" fill="#111" transform="rotate(-90 190.00 431.60)">Relative Expression Level</text>
<text x="222.80" y="491.20" font-size="6.4" text-anchor="end" fill="#111" transform="rotate(-45 222.80 491.20)">WT</text>
<text x="241.70" y="491.50" font-size="6.75" text-anchor="end" fill="#111" transform="rotate(-45 241.70 491.50)"><tspan font-style="italic">OE-PtrVCS2-3×</tspan> FLAG #3</text>
<text x="228.80" y="371.90" font-size="6.4" text-anchor="middle" fill="#111" font-style="italic">PtrIAA17-1</text>
<rect x="275.30" y="466.48" width="13.20" height="18.92" fill="#047804" stroke="#222" stroke-width="0.6"/>
<line x1="299.60" y1="397.80" x2="299.60" y2="381.91" stroke="#222" stroke-width="0.6"/>
<line x1="298.10" y1="381.91" x2="301.10" y2="381.91" stroke="#222" stroke-width="0.6"/>
<rect x="292.90" y="397.80" width="13.40" height="87.60" fill="#ffff00" stroke="#222" stroke-width="0.6"/>
<line x1="273.30" y1="381.80" x2="273.30" y2="485.70" stroke="#222" stroke-width="0.8"/>
<line x1="273.00" y1="485.40" x2="308.50" y2="485.40" stroke="#222" stroke-width="0.8"/>
<line x1="271.30" y1="485.40" x2="273.30" y2="485.40" stroke="#222" stroke-width="0.7"/>
<text x="269.60" y="487.74" font-size="6.5" text-anchor="end" fill="#111">0</text>
<line x1="271.30" y1="466.48" x2="273.30" y2="466.48" stroke="#222" stroke-width="0.7"/>
<text x="269.60" y="468.82" font-size="6.5" text-anchor="end" fill="#111">1</text>
<line x1="271.30" y1="447.56" x2="273.30" y2="447.56" stroke="#222" stroke-width="0.7"/>
<text x="269.60" y="449.90" font-size="6.5" text-anchor="end" fill="#111">2</text>
<line x1="271.30" y1="428.64" x2="273.30" y2="428.64" stroke="#222" stroke-width="0.7"/>
<text x="269.60" y="430.98" font-size="6.5" text-anchor="end" fill="#111">3</text>
<line x1="271.30" y1="409.72" x2="273.30" y2="409.72" stroke="#222" stroke-width="0.7"/>
<text x="269.60" y="412.06" font-size="6.5" text-anchor="end" fill="#111">4</text>
<line x1="271.30" y1="390.80" x2="273.30" y2="390.80" stroke="#222" stroke-width="0.7"/>
<text x="269.60" y="393.14" font-size="6.5" text-anchor="end" fill="#111">5</text>
<line x1="281.90" y1="485.40" x2="281.90" y2="487.40" stroke="#222" stroke-width="0.7"/>
<line x1="299.60" y1="485.40" x2="299.60" y2="487.40" stroke="#222" stroke-width="0.7"/>
<text x="260.60" y="433.40" font-size="6.5" text-anchor="middle" fill="#111" transform="rotate(-90 260.60 433.40)">Relative Expression Level</text>
<text x="286.80" y="492.60" font-size="6.4" text-anchor="end" fill="#111" transform="rotate(-45 286.80 492.60)">WT</text>
<text x="305.30" y="492.90" font-size="6.75" text-anchor="end" fill="#111" transform="rotate(-45 305.30 492.90)"><tspan font-style="italic">OE-PtrVCS2-3×</tspan> FLAG #3</text>
<text x="292.20" y="372.50" font-size="6.4" text-anchor="middle" fill="#111" font-style="italic">PtrPNP-A-2</text>
<text x="299.60" y="381.30" font-size="6.2" text-anchor="middle" fill="#111">*</text>
<rect x="345.00" y="450.33" width="13.50" height="34.77" fill="#047804" stroke="#222" stroke-width="0.6"/>
<line x1="369.70" y1="391.93" x2="369.70" y2="390.88" stroke="#222" stroke-width="0.6"/>
<line x1="368.20" y1="390.88" x2="371.20" y2="390.88" stroke="#222" stroke-width="0.6"/>
<rect x="363.10" y="391.93" width="13.20" height="93.17" fill="#ffff00" stroke="#222" stroke-width="0.6"/>
<line x1="343.10" y1="380.80" x2="343.10" y2="485.40" stroke="#222" stroke-width="0.8"/>
<line x1="342.80" y1="485.10" x2="378.30" y2="485.10" stroke="#222" stroke-width="0.8"/>
<line x1="341.10" y1="485.10" x2="343.10" y2="485.10" stroke="#222" stroke-width="0.7"/>
<text x="339.40" y="487.44" font-size="6.5" text-anchor="end" fill="#111">0</text>
<line x1="341.10" y1="450.33" x2="343.10" y2="450.33" stroke="#222" stroke-width="0.7"/>
<text x="339.40" y="452.67" font-size="6.5" text-anchor="end" fill="#111">1</text>
<line x1="341.10" y1="415.57" x2="343.10" y2="415.57" stroke="#222" stroke-width="0.7"/>
<text x="339.40" y="417.91" font-size="6.5" text-anchor="end" fill="#111">2</text>
<line x1="341.10" y1="380.80" x2="343.10" y2="380.80" stroke="#222" stroke-width="0.7"/>
<text x="339.40" y="383.14" font-size="6.5" text-anchor="end" fill="#111">3</text>
<line x1="351.75" y1="485.10" x2="351.75" y2="487.10" stroke="#222" stroke-width="0.7"/>
<line x1="369.70" y1="485.10" x2="369.70" y2="487.10" stroke="#222" stroke-width="0.7"/>
<text x="330.00" y="432.95" font-size="6.5" text-anchor="middle" fill="#111" transform="rotate(-90 330.00 432.95)">Relative Expression Level</text>
<text x="356.65" y="492.30" font-size="6.4" text-anchor="end" fill="#111" transform="rotate(-45 356.65 492.30)">WT</text>
<text x="375.40" y="492.60" font-size="6.75" text-anchor="end" fill="#111" transform="rotate(-45 375.40 492.60)"><tspan font-style="italic">OE-PtrVCS2-3×</tspan> FLAG #3</text>
<text x="365.30" y="372.20" font-size="6.4" text-anchor="middle" fill="#111" font-style="italic">PtrSIP1-6</text>
<text x="369.70" y="388.50" font-size="6.2" text-anchor="middle" fill="#111">*</text>
</svg></body></html>
